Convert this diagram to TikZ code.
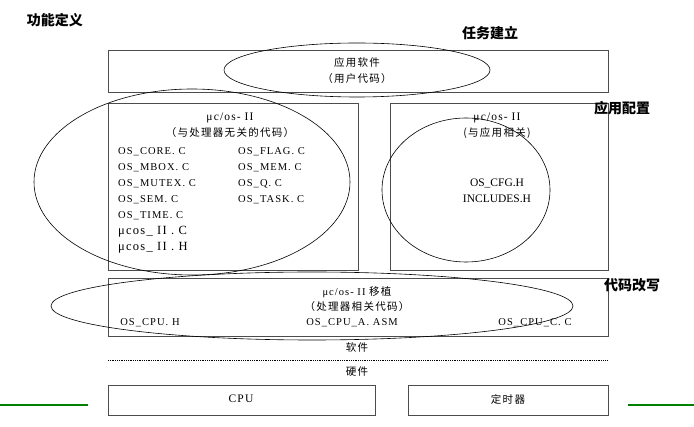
\documentclass[tikz,border=0pt]{standalone}
\usepackage{fontspec}
\setmainfont{Liberation Serif}
\newfontfamily\cjk{Noto Sans CJK SC}
\newfontfamily\cjks[LetterSpace=12]{Noto Sans CJK SC}
\newfontfamily\spser[LetterSpace=10]{Liberation Serif}
\begin{document}
\begin{tikzpicture}[x=1pt,y=-1pt,
  bx/.style={draw=black!70,line width=0.6pt},
  t/.style={font=\fontsize{10.5}{12}\selectfont\cjks, inner sep=0pt},
  r/.style={font=\fontsize{11.5}{12}\selectfont\spser, inner sep=0pt},
  f/.style={font=\fontsize{10.5}{12}\selectfont\spser, inner sep=0pt, anchor=west},
  lab/.style={font=\fontsize{14}{16}\selectfont\cjk\bfseries, inner sep=0pt}]
\useasboundingbox (0,0) rectangle (694,427);
\draw[bx] (108,50) rectangle (608,92);
\draw[bx] (108,103) rectangle (358,270);
\draw[bx] (390,103) rectangle (608,270);
\draw[bx] (108,278) rectangle (608,336);
\draw[bx] (108,385) rectangle (375,415);
\draw[bx] (408,385) rectangle (608,415);
\draw[densely dotted,line width=0.8pt] (108,360) -- (608,360);
\draw[green!50!black,line width=1.2pt] (0,405) -- (88,405) (628,405) -- (694,405);
\draw[line width=0.6pt] (357,70) ellipse [x radius=133,y radius=27];
\draw[line width=0.6pt] (192,182) ellipse [x radius=158,y radius=93];
\draw[line width=0.6pt] (466,190) ellipse [x radius=84,y radius=72];
\draw[line width=0.6pt] (312,306) ellipse [x radius=261,y radius=34];
\node[lab] (l1) at (55,20) {功能定义};
\node[lab] (l2) at (490,33) {任务建立};
\node[lab] (l3) at (622,108) {应用配置};
\node[lab] (l4) at (632,285) {代码改写};
\node[t] (a1) at (357,63) {应用软件};
\node[t] (a2) at (357,79) {（用户代码）};
\node[r] (b1) at (230,118) {μc/os- II};
\node[t] (b2) at (230,133) {（与处理器无关的代码）};
\foreach \s/\y in {OS\_CORE. C/152,OS\_MBOX. C/168,OS\_MUTEX. C/184,OS\_SEM. C/200,OS\_TIME. C/216}
  \node[f] at (118,\y) {\s};
\foreach \s/\y in {OS\_FLAG. C/152,OS\_MEM. C/168,OS\_Q. C/184,OS\_TASK. C/200}
  \node[f] at (238,\y) {\s};
\node[f,font=\fontsize{12.5}{13}\selectfont\spser] (m1) at (118,232) {μcos\_ II . C};
\node[f,font=\fontsize{12.5}{13}\selectfont\spser] (m2) at (118,248) {μcos\_ II . H};
\node[r] (c1) at (497,118) {μc/os- II};
\node[t] (c2) at (497,133) {(与应用相关)};
\node[r,font=\fontsize{11.5}{12}\selectfont] (c3) at (497,183) {OS\_CFG.H};
\node[r,font=\fontsize{11.5}{12}\selectfont] (c4) at (497,199) {INCLUDES.H};
\node[t] (d1) at (357,292) {\spser μc/os- II \cjks 移植};
\node[t] (d2) at (357,307) {（处理器相关代码）};
\node[f,anchor=center] at (150,323) {OS\_CPU. H};
\node[f,anchor=center] at (352,323) {OS\_CPU\_A. ASM};
\node[f,anchor=center] at (535,323) {OS\_CPU\_C. C};
\node[t] (s1) at (357,348) {软件};
\node[t] (s2) at (357,372) {硬件};
\node[r] (cpu) at (241,399) {CPU};
\node[t] (tm) at (508,399) {定时器};
\end{tikzpicture}
\end{document}
